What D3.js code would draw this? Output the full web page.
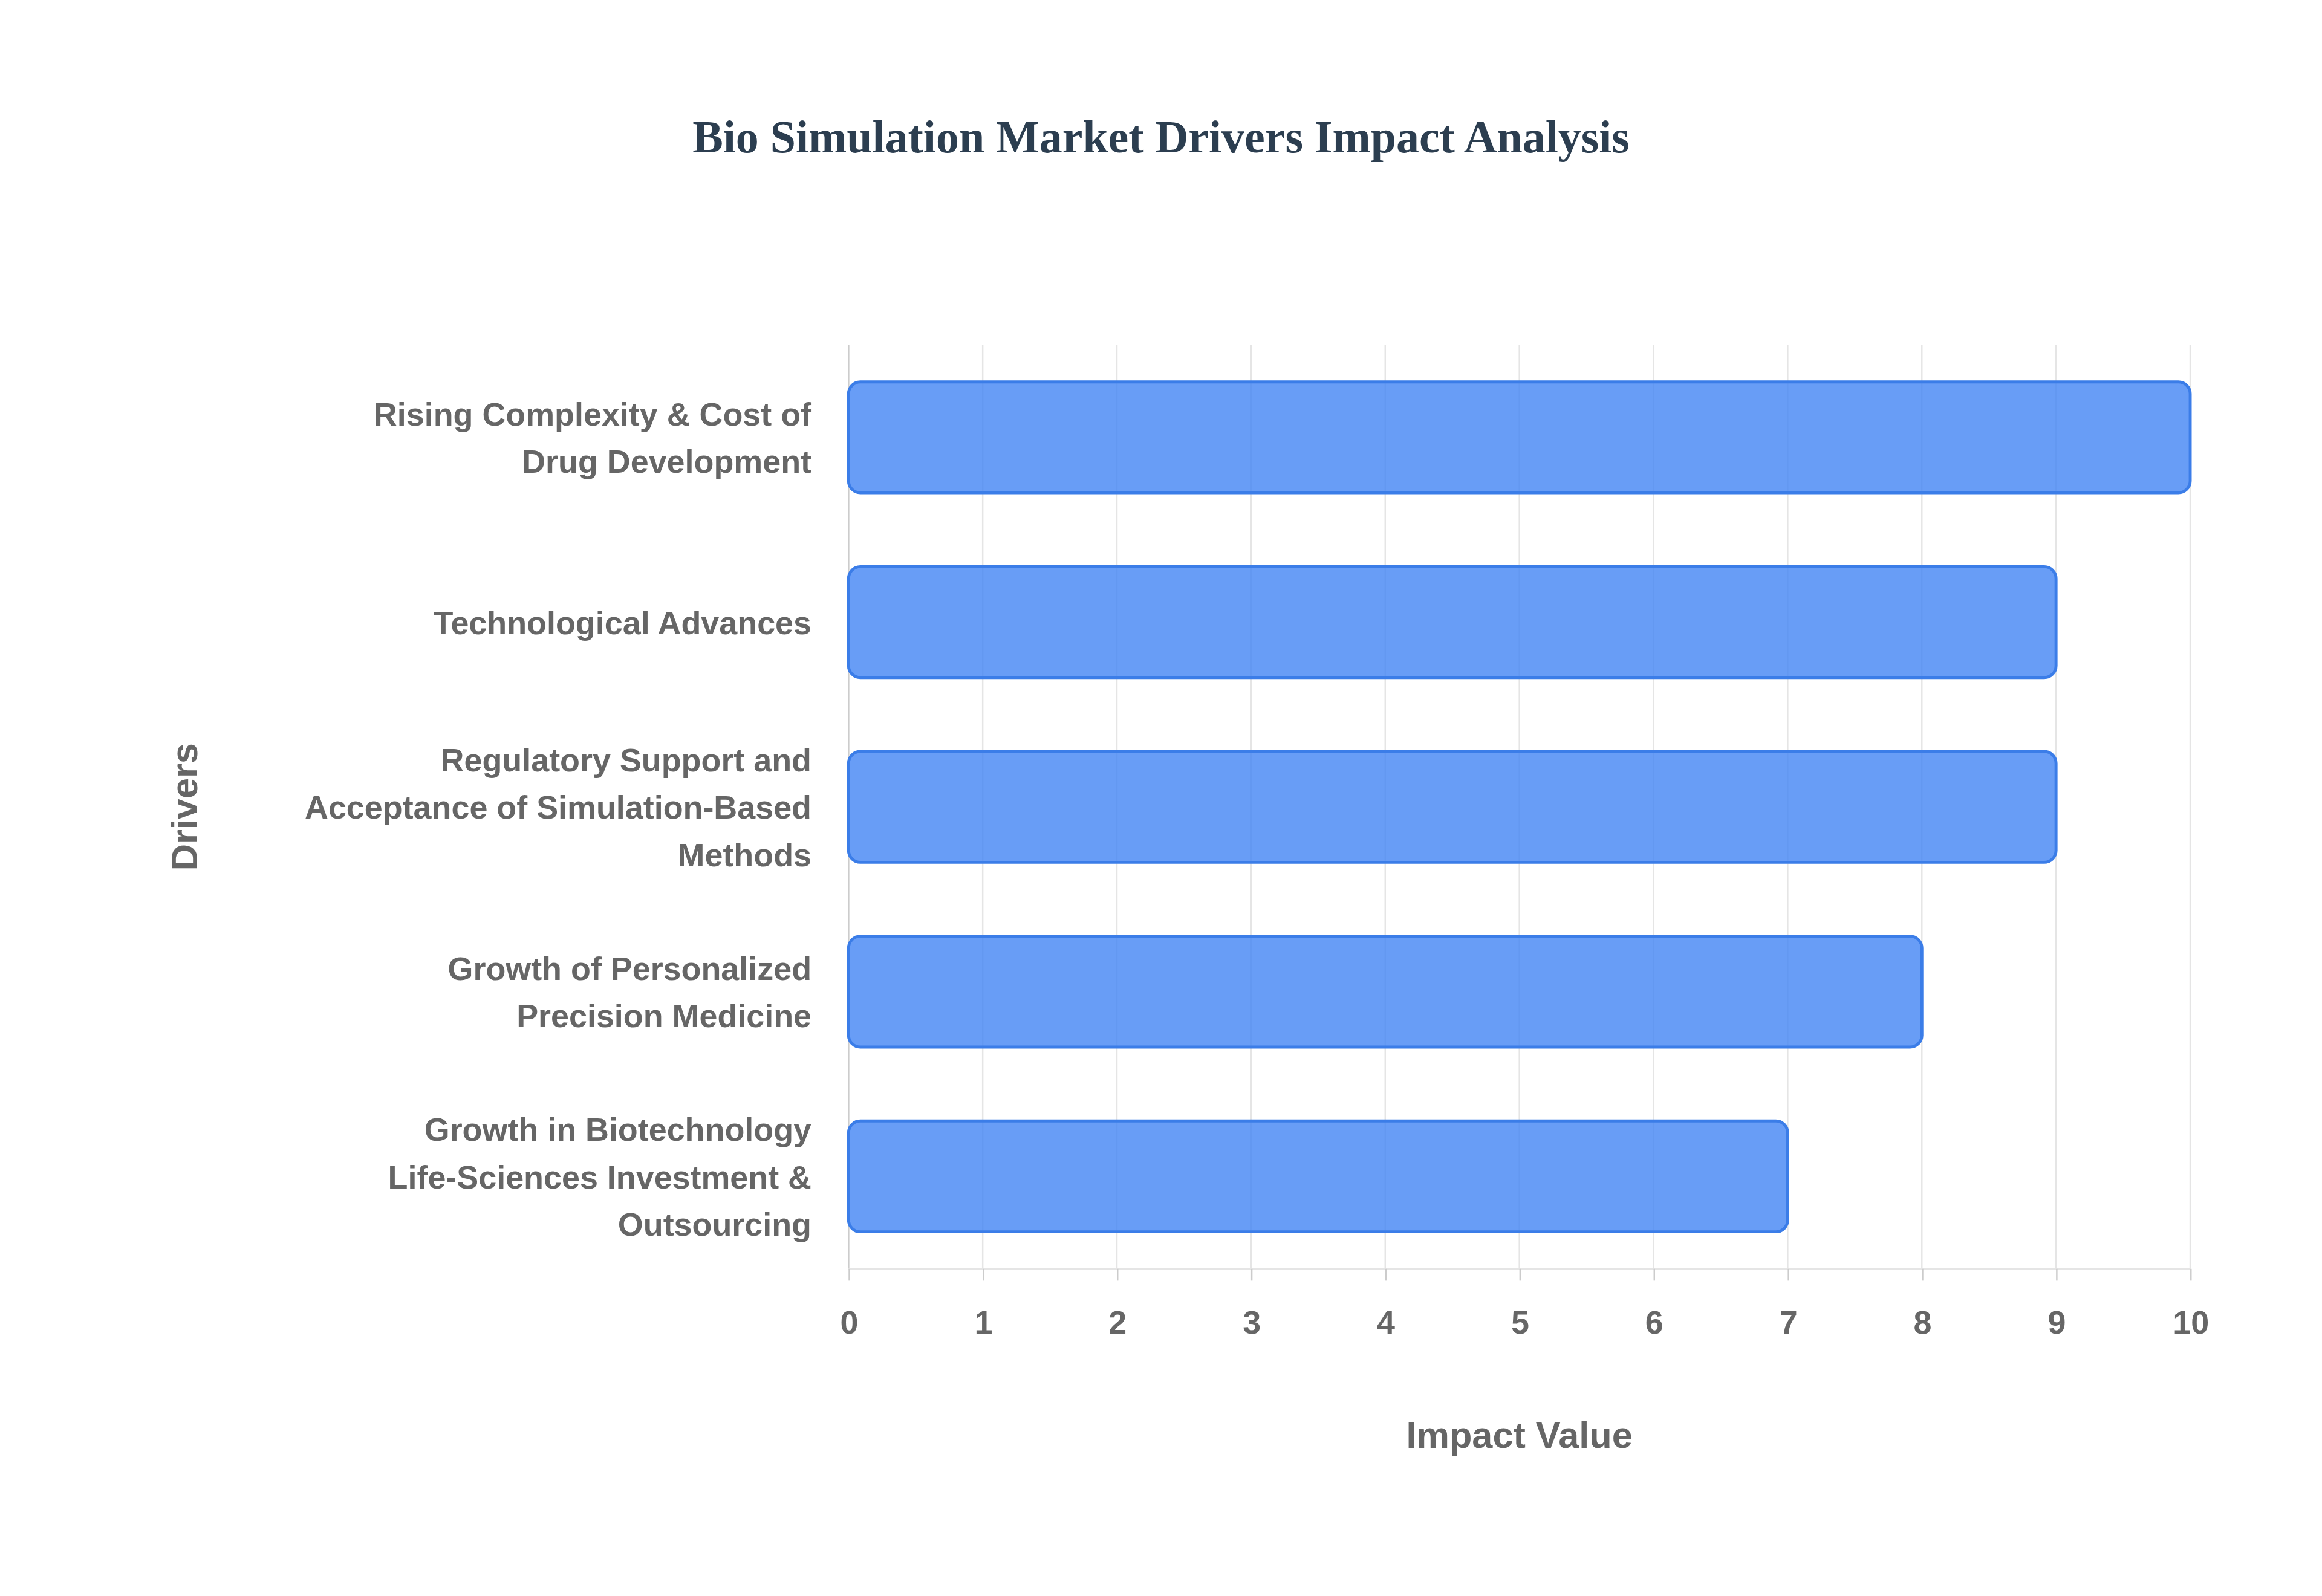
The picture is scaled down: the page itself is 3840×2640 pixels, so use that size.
<!DOCTYPE html>
<html><head><meta charset="utf-8">
<script src="https://cdn.jsdelivr.net/npm/d3@7"></script>
<style>body{margin:0;background:#fff}</style></head>
<body><svg id="c" width="3840" height="2640" viewBox="0 0 1568 1078"></svg>
<script>
const categories = ["Rising Complexity & Cost of|Drug Development","Technological Advances","Regulatory Support and|Acceptance of Simulation-Based|Methods","Growth of Personalized|Precision Medicine","Growth in Biotechnology|Life-Sciences Investment &|Outsourcing"];
const values = [10,9,9,8,7];
const xTicks = [0,1,2,3,4,5,6,7,8,9,10];

const svg = d3.select("#c");
const L=573,R=1479,T=233,B=857;
const x = d3.scaleLinear().domain([0,10]).range([L,R]);
const y = d3.scaleBand().domain(categories).range([T,B]).paddingInner(0.4).paddingOuter(0.2);

svg.append("text").attr("x",784).attr("y",103).attr("text-anchor","middle")
 .attr("font-family","Liberation Serif").attr("font-weight","bold").attr("font-size",31).attr("fill","#2c3e50")
 .text("Bio Simulation Market Drivers Impact Analysis");

svg.append("g").selectAll("line").data(xTicks).join("line")
 .attr("x1",d=>x(d)).attr("x2",d=>x(d)).attr("y1",T).attr("y2",B)
 .attr("stroke","#e5e5e5").attr("stroke-width",1);
svg.append("line").attr("x1",L).attr("x2",L).attr("y1",T).attr("y2",B).attr("stroke","#ccc");
svg.append("line").attr("x1",L).attr("x2",R).attr("y1",B).attr("y2",B).attr("stroke","#e5e5e5");

const xa = svg.append("g").attr("transform",`translate(0,${B})`).call(d3.axisBottom(x).tickValues(xTicks).tickSize(8).tickPadding(20));
xa.select(".domain").remove();
xa.selectAll("line").attr("stroke","#ccc");
xa.selectAll("text").attr("font-family","Liberation Sans").attr("font-weight","bold").attr("font-size",22).attr("fill","#666");

svg.append("g").selectAll("rect").data(values).join("rect")
 .attr("x",x(0)).attr("y",(d,i)=>y(categories[i])).attr("width",d=>x(d)-x(0)).attr("height",y.bandwidth())
 .attr("rx",8).attr("fill","rgba(66,133,244,0.8)").attr("stroke","#3b7de8").attr("stroke-width",2);

const lab = svg.append("g");
categories.forEach(c=>{
  const lines=c.split("|"), cy=y(c)+y.bandwidth()/2, lh=32;
  const t=lab.append("text").attr("text-anchor","end").attr("font-family","Liberation Sans").attr("font-weight","bold").attr("font-size",22).attr("fill","#666");
  lines.forEach((s,i)=>t.append("tspan").attr("x",548).attr("y",cy+(i-(lines.length-1)/2)*lh+8).text(s));
});

svg.append("text").attr("x",1026).attr("y",978).attr("text-anchor","middle").attr("font-family","Liberation Sans").attr("font-weight","bold").attr("font-size",25).attr("fill","#666").text("Impact Value");
svg.append("text").attr("transform","translate(133,545) rotate(-90)").attr("text-anchor","middle").attr("font-family","Liberation Sans").attr("font-weight","bold").attr("font-size",25).attr("fill","#666").text("Drivers");
</script></body></html>
